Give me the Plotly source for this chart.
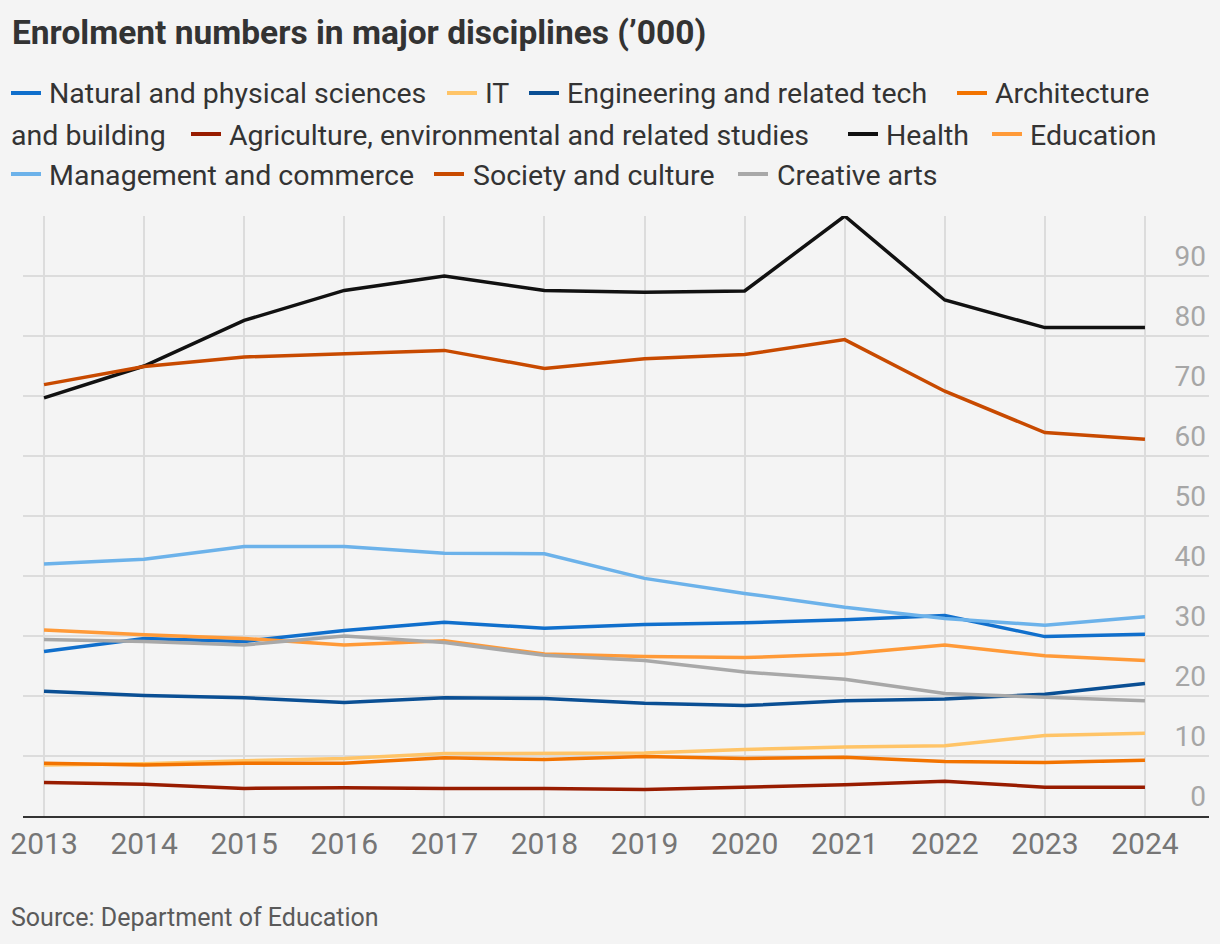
import plotly.graph_objects as go

# ---------------- data ----------------
years = [2013, 2014, 2015, 2016, 2017, 2018, 2019, 2020, 2021, 2022, 2023, 2024]

natural_physical = [27.4, 29.6, 29.1, 30.9, 32.3, 31.3, 31.9, 32.2, 32.7, 33.4, 29.9, 30.3]
it = [8.5, 8.7, 9.2, 9.6, 10.4, 10.4, 10.5, 11.1, 11.5, 11.7, 13.4, 13.8]
engineering = [20.8, 20.1, 19.7, 18.9, 19.7, 19.6, 18.8, 18.4, 19.2, 19.5, 20.3, 22.1]
architecture = [8.8, 8.5, 8.8, 8.8, 9.7, 9.4, 9.9, 9.6, 9.8, 9.1, 8.9, 9.3]
agriculture = [5.6, 5.3, 4.6, 4.7, 4.6, 4.6, 4.4, 4.8, 5.2, 5.8, 4.8, 4.8]
health = [69.7, 75.0, 82.6, 87.6, 90.0, 87.6, 87.3, 87.5, 100.0, 86.0, 81.4, 81.4]
education = [31.0, 30.2, 29.6, 28.5, 29.2, 27.0, 26.6, 26.4, 27.0, 28.5, 26.7, 25.9]
management = [42.0, 42.8, 44.9, 44.9, 43.8, 43.7, 39.6, 37.1, 34.8, 32.9, 31.8, 33.2]
society = [71.9, 74.9, 76.5, 77.0, 77.6, 74.6, 76.2, 76.9, 79.4, 70.8, 63.9, 62.8]
creative_arts = [29.4, 29.1, 28.5, 30.0, 28.9, 26.8, 25.9, 24.0, 22.8, 20.4, 19.8, 19.2]

series_names = [
    "Natural and physical sciences", "IT", "Engineering and related tech",
    "Architecture and building", "Agriculture, environmental and related studies",
    "Health", "Education", "Management and commerce", "Society and culture",
    "Creative arts",
]
series_values = [natural_physical, it, engineering, architecture, agriculture,
                 health, education, management, society, creative_arts]

y_ticks = [0, 10, 20, 30, 40, 50, 60, 70, 80, 90]

title_text = "Enrolment numbers in major disciplines (’000)"
source_text = "Source: Department of Education"

# ---------------- styles ----------------
colors = ["#106fcc", "#ffc467", "#0a4f94", "#f27300", "#981c00",
          "#111111", "#ff9a38", "#6cb2ea", "#c84a00", "#a8a8a8"]

W, H = 1220, 944
L, R, T, B = 23, 1209, 216, 816  # plot area in pixels
FONT = "Roboto"
BG = "#f4f4f4"


def px(x):
    return (x - L) / (R - L)


def py(y):
    return (B - y) / (B - T)


fig = go.Figure()
for name, vals, col in zip(series_names, series_values, colors):
    fig.add_trace(go.Scatter(
        x=years, y=vals, name=name, mode="lines",
        line=dict(color=col, width=3.5),
        showlegend=False,
        hovertemplate="%{x}: %{y}<extra>" + name + "</extra>",
    ))

# ---------------- custom wrapped legend ----------------
# (series index or None, label text, marker-start px, text-start px, row y px)
legend_layout = [
    (0, "Natural and physical sciences", 11, 48, 93),
    (1, "IT", 447, 484, 93),
    (2, "Engineering and related tech", 529, 566, 93),
    (3, "Architecture", 957, 994, 93),
    (None, "and building", None, 10, 134),
    (4, "Agriculture, environmental and related studies", 191, 228, 134),
    (5, "Health", 848, 885, 134),
    (6, "Education", 992, 1029, 134),
    (7, "Management and commerce", 11, 48, 174),
    (8, "Society and culture", 434, 472, 174),
    (9, "Creative arts", 738, 776, 174),
]

shapes = []
annotations = []
for idx, label, mx, tx, ry in legend_layout:
    if idx is not None:
        shapes.append(dict(
            type="line", xref="paper", yref="paper",
            x0=px(mx), x1=px(mx + 30), y0=py(ry), y1=py(ry),
            line=dict(color=colors[idx], width=4),
        ))
    annotations.append(dict(
        text=label, xref="paper", yref="paper", x=px(tx - 1), y=py(ry + 1),
        xanchor="left", yanchor="middle", showarrow=False,
        font=dict(family=FONT, size=28.5, color="#333333"),
    ))

annotations.append(dict(
    text="<b>" + title_text + "</b>", xref="paper", yref="paper",
    x=px(10), y=py(32), xanchor="left", yanchor="middle", showarrow=False,
    font=dict(family=FONT, size=33.5, color="#333333"),
))
annotations.append(dict(
    text=source_text, xref="paper", yref="paper",
    x=px(9), y=py(917), xanchor="left", yanchor="middle", showarrow=False,
    font=dict(family=FONT, size=25, color="#5a5a5a"),
))

fig.update_layout(
    width=W, height=H,
    margin=dict(l=L, r=W - R, t=T, b=H - B, pad=0),
    paper_bgcolor=BG, plot_bgcolor=BG,
    shapes=shapes, annotations=annotations,
    showlegend=False,
    xaxis=dict(
        range=[2012.79, 2024.64],
        tickvals=years, ticktext=[str(y) for y in years],
        showgrid=True, gridcolor="#dcdcdc", gridwidth=2,
        showline=True, linecolor="#333333", linewidth=2,
        ticks="", zeroline=False,
        tickfont=dict(family=FONT, size=30, color="#767676"),
        fixedrange=True,
    ),
    yaxis=dict(
        range=[0, 100],
        tickvals=y_ticks, ticktext=[str(v) for v in y_ticks],
        side="right", ticklabelposition="inside",
        ticklabelshift=-20,
        showgrid=True, gridcolor="#dcdcdc", gridwidth=2,
        showline=False, zeroline=False, ticks="",
        tickfont=dict(family=FONT, size=28, color="#a6a6a6"),
        fixedrange=True,
    ),
)

fig.write_html(
    "out.html",
    config={"displayModeBar": False},
    post_script="document.body.style.margin='0';document.body.style.background='%s';" % BG,
)
